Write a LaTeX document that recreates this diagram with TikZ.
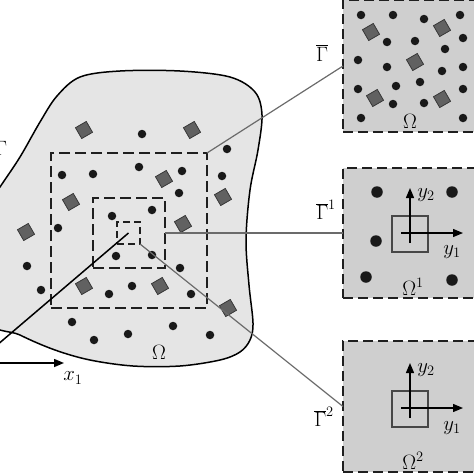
\documentclass[tikz,border=0pt]{standalone}
\usetikzlibrary{arrows.meta}
\begin{document}
\begin{tikzpicture}[x=1pt,y=-1pt,
  dot/.style={circle,fill=black!90,inner sep=0pt,minimum size=8.5pt},
  bigdot/.style={circle,fill=black!90,inner sep=0pt,minimum size=11.5pt},
  incl/.style={rectangle,fill=black!62,draw=black!78,line width=0.8pt,inner sep=0pt,minimum size=12.5pt,rotate=30},
  sqframe/.style={rectangle,draw=black!88,line width=1.8pt,dash pattern=on 11pt off 5pt,inner sep=0pt,outer sep=0pt},
  panel/.style={rectangle,fill=black!19,draw=black!88,line width=2pt,dash pattern=on 10pt off 5pt,inner sep=0pt,outer sep=0pt},
  conn/.style={draw=black!58,line width=1.2pt},
  cell/.style={rectangle,draw=black!72,line width=1.1pt,inner sep=0pt,minimum size=36pt},
  ax/.style={line width=1.3pt,-{Triangle[length=10pt,width=8pt]}},
  lab/.style={font=\fontsize{21}{24}\selectfont,inner sep=0pt}]
\useasboundingbox (0,0) rectangle (474,474);
\clip (0,0) rectangle (474,474);
% blob
\draw[fill=black!10,line width=1.5pt] plot[smooth cycle,tension=0.55] coordinates {
 (-15,210) (0,187) (20,157) (40,122) (57,96) (80,77) (120,71) (180,71) (230,77)
 (255,92) (262,115) (258,150) (250,190) (246,240) (249,285) (253,323) (250,340)
 (240,352) (220,360) (180,366) (133,366) (90,360) (55,350) (20,335) (-15,315)};
\node[lab] (gam) at (1,148) {$\Gamma$};
\node[lab] (om) at (159,352) {$\Omega$};
% inclusions in blob
\foreach \p [count=\i] in {(142,134),(227,149),(62,175),(93,174),(139,167),(182,171),(222,176),(179,193),(152,210),(112,216),(58,228),(27,266),(116,256),(152,255),(180,268),(41,290),(132,286),(109,294),(191,294),(72,322),(173,326),(94,340),(128,334),(210,335)}
  \node[dot] (bd\i) at \p {};
\foreach \p [count=\i] in {(84,130),(192,130),(164,179),(71,202),(223,197),(26,232),(183,224),(84,286),(160,286),(228,308)}
  \node[incl] (bs\i) at \p {};
% dashed windows
\node[sqframe,minimum width=156pt,minimum height=155pt] (S1) at (129,230.5) {};
\node[sqframe,minimum width=72pt,minimum height=70pt] (S2) at (129,233) {};
\node[sqframe,minimum width=23pt,minimum height=22pt,dash pattern=on 7pt off 4pt] (S3) at (128.5,233) {};
% axes
\coordinate (O) at (-24,363);
\coordinate (X1) at (64,363);
\draw[ax,line width=1.5pt] (O) -- (X1);
\draw[line width=1.5pt] (O) -- (S3.center);
\node[lab] (x1) at (73,378) {$x_1$};
% panels
\node[panel,minimum width=137pt,minimum height=132pt] (P1) at (411.5,66) {};
\node[panel,minimum width=137pt,minimum height=130pt] (P2) at (411.5,233) {};
\node[panel,minimum width=137pt,minimum height=131pt] (P3) at (411.5,406.5) {};
% connectors
\draw[conn] (S1.north east) -- (P1.west);
\draw[conn] (S2.east) -- (P2.west);
\draw[conn] (S3.south east) -- (P3.west);
% panel 1 content
\foreach \p [count=\i] in {(361,15),(393,15),(424,19),(460,15),(387,42),(415,41),(463,38),(445,49),(358,60),(387,67),(442,71),(463,67),(420,82),(358,89),(396,86),(393,104),(424,103),(463,89),(361,118),(463,118)}
  \node[dot] (pd\i) at \p {};
\foreach \p [count=\i] in {(371,32),(442,28),(415,62),(375,98),(442,99)}
  \node[incl] (ps\i) at \p {};
\node[lab] (om1) at (410,121) {$\Omega$};
\node[lab] (g1) at (322,53) {$\overline{\Gamma}$};
% panel 2 content
\foreach \p [count=\i] in {(377,192),(452,192),(376,241),(366,277),(452,280)}
  \node[bigdot] (qd\i) at \p {};
\node[cell] (c2) at (410,234) {};
\coordinate (v2a) at (410,243); \coordinate (v2b) at (410,188);
\coordinate (h2a) at (401,233); \coordinate (h2b) at (463,233);
\draw[ax] (v2a) -- (v2b);
\draw[ax] (h2a) -- (h2b);
\node[lab] (y2a) at (426,195) {$y_2$};
\node[lab] (y1a) at (452,252) {$y_1$};
\node[lab] (om2) at (413,287) {$\Omega^1$};
\node[lab] (g2) at (326,210) {$\overline{\Gamma}^1$};
% panel 3 content
\node[cell] (c3) at (410,409) {};
\coordinate (v3a) at (410,418); \coordinate (v3b) at (410,363);
\coordinate (h3a) at (401,408); \coordinate (h3b) at (463,408);
\draw[ax] (v3a) -- (v3b);
\draw[ax] (h3a) -- (h3b);
\node[lab] (y2b) at (426,370) {$y_2$};
\node[lab] (y1b) at (452,428) {$y_1$};
\node[lab] (om3) at (413,461) {$\Omega^2$};
\node[lab] (g3) at (324,417) {$\overline{\Gamma}^2$};
\end{tikzpicture}
\end{document}
